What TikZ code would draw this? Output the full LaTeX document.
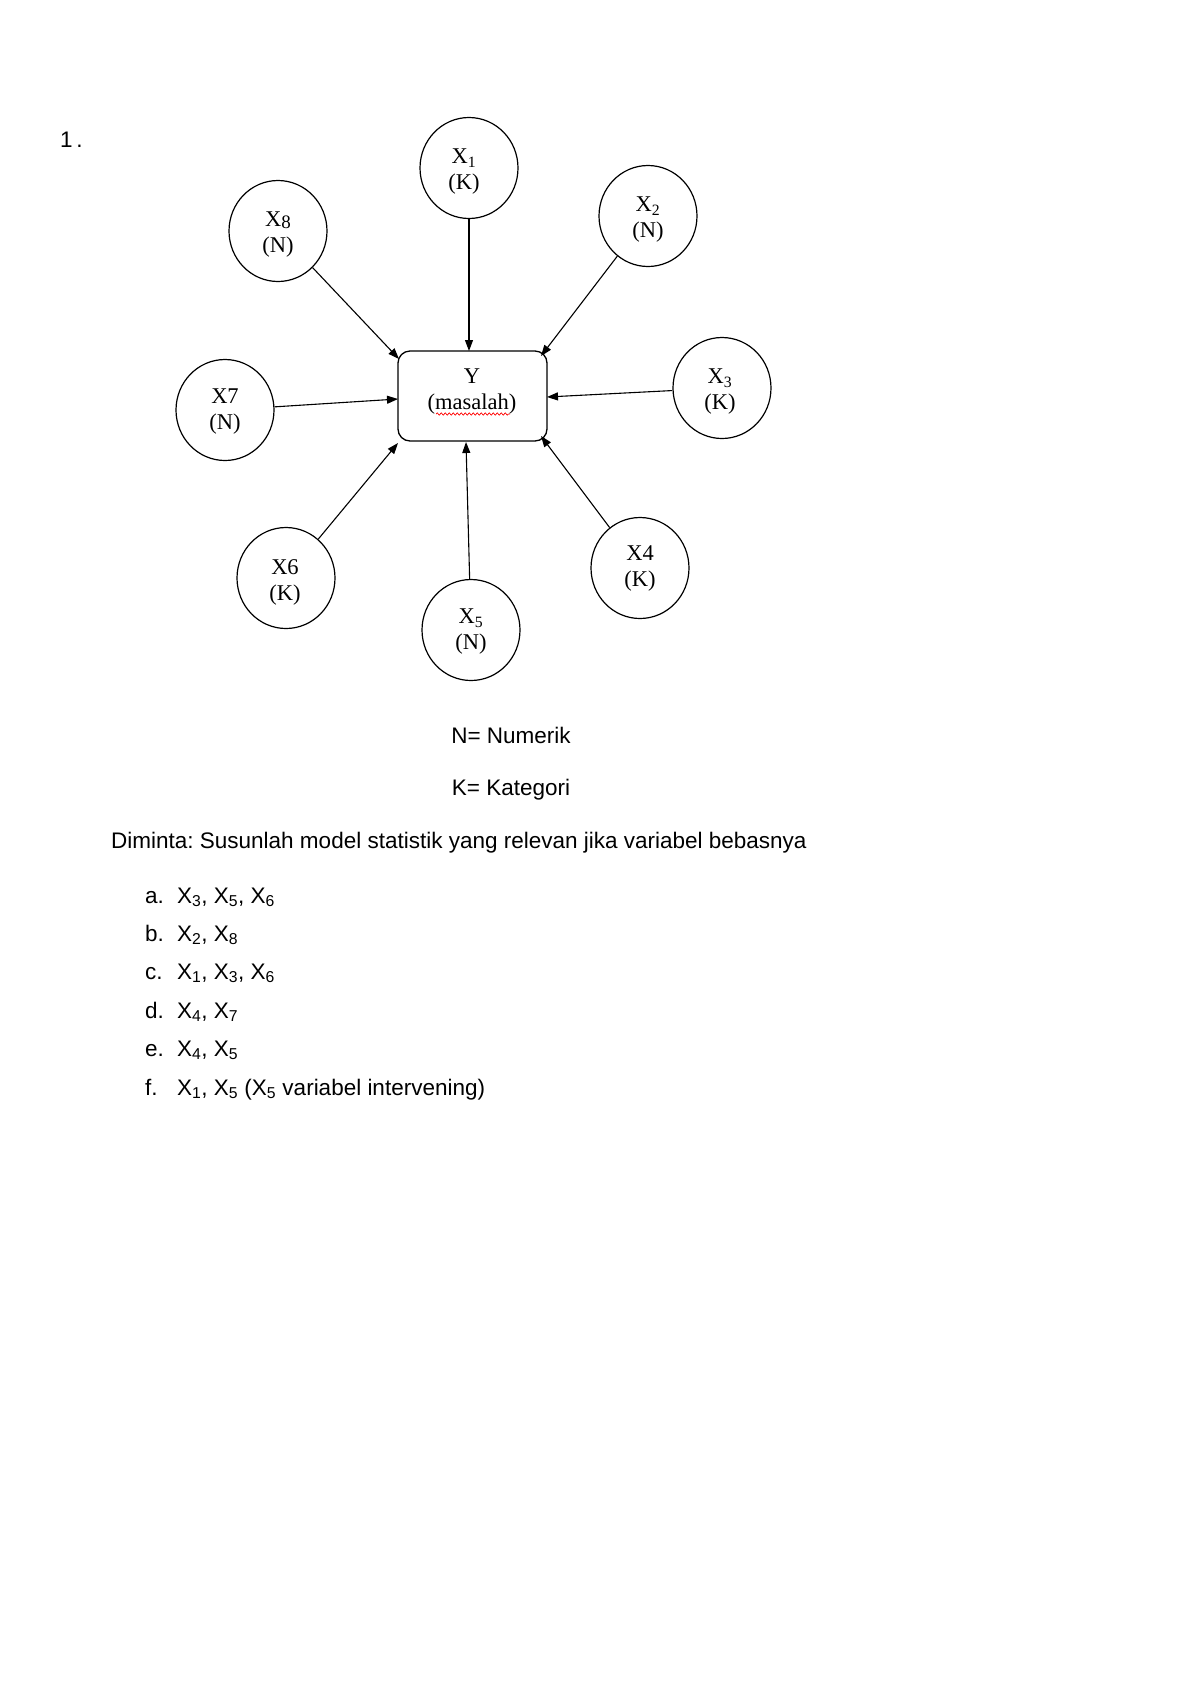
\documentclass[tikz,border=0pt]{standalone}
\usepackage{fontspec}
\setmainfont{Liberation Serif}
\setsansfont{Liberation Sans}
\usetikzlibrary{arrows.meta,shapes.geometric,decorations.pathmorphing}
\begin{document}
\frenchspacing
\begin{tikzpicture}[x=1pt,y=-1pt,
  varnode/.style={draw, ellipse, line width=1.2pt, minimum width=98pt, minimum height=101pt, inner sep=0pt},
  varlab/.style={align=center, inner sep=0pt, font=\fontsize{22.5}{26}\selectfont},
  ybox/.style={draw, rounded corners=12pt, line width=1.3pt, minimum width=149pt, minimum height=90pt, inner sep=0pt},
  arr/.style={line width=1.1pt, -{Triangle[length=11pt, width=8pt]}},
  bodytext/.style={font=\sffamily\fontsize{22.5}{26}\selectfont, inner sep=0pt, anchor=base west}
]
\useasboundingbox (0,0) rectangle (1200,1698);
\fill[white] (0,0) rectangle (1200,1698);

\node[bodytext] (num) at (60,147) {1\,.};

\node[ybox] (y) at (472.5,396) {};
\node[varlab] (ylab) at (472,392) {Y\\(masalah)};
\coordinate (wl) at (436,414);
\coordinate (wr) at (510,414);
\draw[red, line width=0.7pt, decorate, decoration={snake, segment length=4pt, amplitude=1.1pt}] (wl) -- (wr);

\node[varnode] (x1) at (469,168) {};
\node[varnode] (x2) at (648,216) {};
\node[varnode] (x3) at (722,388) {};
\node[varnode] (x4) at (640,568) {};
\node[varnode] (x5) at (471,630) {};
\node[varnode] (x6) at (286,578) {};
\node[varnode] (x7) at (225,410) {};
\node[varnode] (x8) at (278,231) {};

\node[varlab] (l1) at (464,172) {X\textsubscript{1}\\(K)};
\node[varlab] (l2) at (648,220) {X\textsubscript{2}\\(N)};
\node[varlab] (l3) at (720,392) {X\textsubscript{3}\\(K)};
\node[varlab] (l4) at (640,568) {X4\\(K)};
\node[varlab] (l5) at (471,632) {X\textsubscript{5}\\(N)};
\node[varlab] (l6) at (285,582) {X6\\(K)};
\node[varlab] (l7) at (225,412) {X7\\(N)};
\node[varlab] (l8) at (278,235) {X\raisebox{-2pt}{\fontsize{19}{22}\selectfont 8}\\(N)};

\coordinate (t1) at (469,351);
\coordinate (t2) at (541,356);
\coordinate (t3) at (547,397);
\coordinate (t4) at (541,436);
\coordinate (t5) at (466,442);
\coordinate (t6) at (398,443);
\coordinate (t7) at (398,399);
\coordinate (t8) at (399,359);

\draw[arr] (x1) -- (t1);
\draw[arr] (x2) -- (t2);
\draw[arr] (x3) -- (t3);
\draw[arr] (x4) -- (t4);
\draw[arr] (x5) -- (t5);
\draw[arr] (x6) -- (t6);
\draw[arr] (x7) -- (t7);
\draw[arr] (x8) -- (t8);

\node[bodytext, anchor=base] (n) at (511,743) {N= Numerik};
\node[bodytext, anchor=base] (k) at (511,795) {K= Kategori};
\node[bodytext] (dim) at (111,848) {Diminta: Susunlah model statistik yang relevan jika variabel bebasnya};

\newcommand{\vs}[1]{X\textsubscript{#1}}
\node[bodytext] (la) at (145,903) {a.};
\node[bodytext] (ia) at (177,903) {\vs{3}, \vs{5}, \vs{6}};
\node[bodytext] (lb) at (145,941) {b.};
\node[bodytext] (ib) at (177,941) {\vs{2}, \vs{8}};
\node[bodytext] (lc) at (145,979) {c.};
\node[bodytext] (ic) at (177,979) {\vs{1}, \vs{3}, \vs{6}};
\node[bodytext] (ld) at (145,1018) {d.};
\node[bodytext] (id) at (177,1018) {\vs{4}, \vs{7}};
\node[bodytext] (le) at (145,1056) {e.};
\node[bodytext] (ie) at (177,1056) {\vs{4}, \vs{5}};
\node[bodytext] (lf) at (145,1095) {f.};
\node[bodytext] (if) at (177,1095) {\vs{1}, \vs{5} (\vs{5} variabel intervening)};
\end{tikzpicture}
\end{document}
